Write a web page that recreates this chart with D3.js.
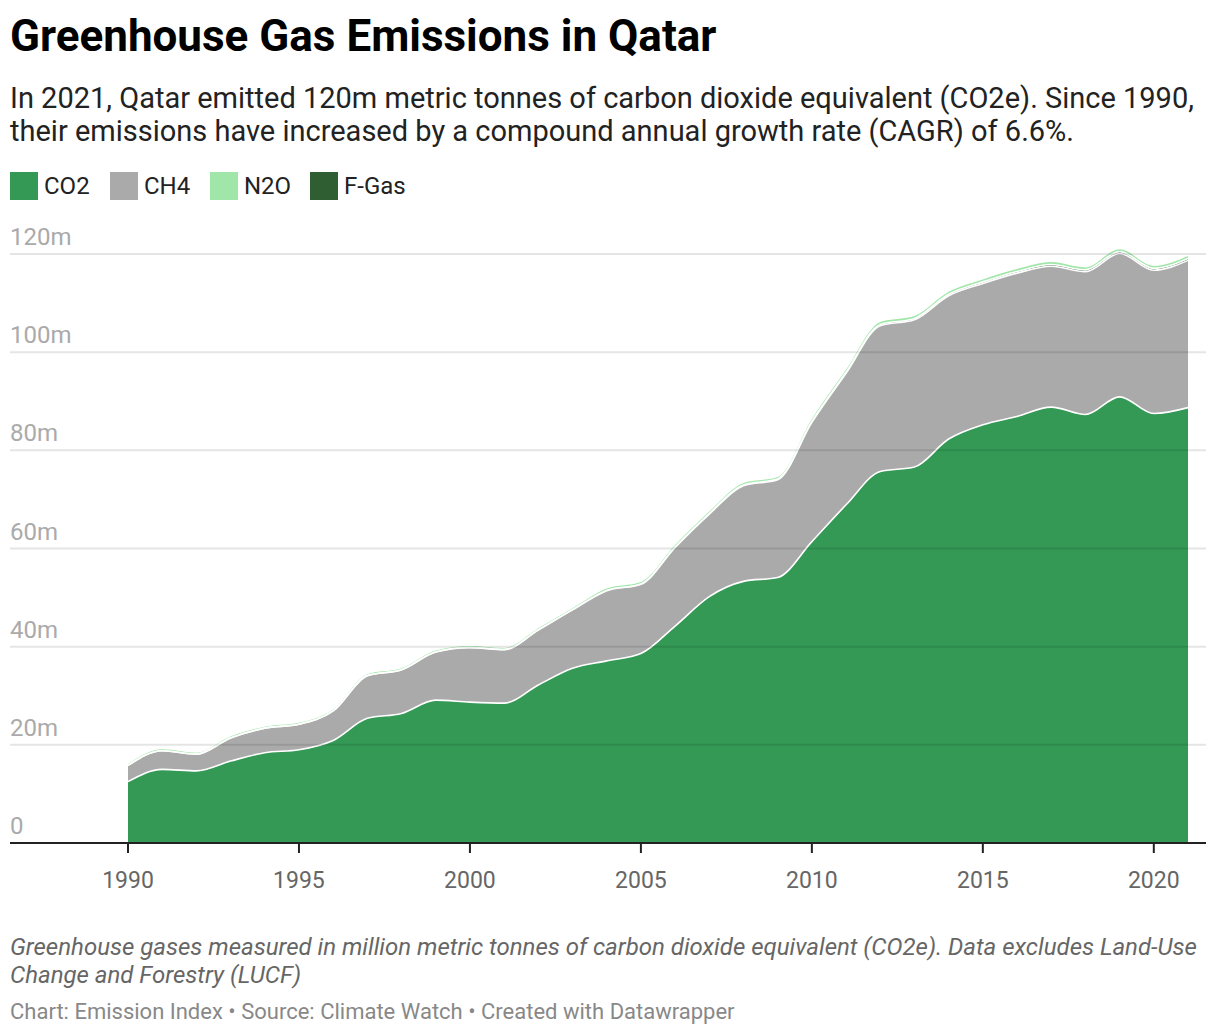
<!DOCTYPE html>
<html>
<head>
<meta charset="utf-8">
<script src="https://cdn.jsdelivr.net/npm/d3@7"></script>
<style>
  body { margin: 0; background: #fff; font-family: Roboto, "Noto Sans", sans-serif; }
  svg text { font-family: Roboto, "Noto Sans", sans-serif; }
</style>
</head>
<body>
<svg id="chart" width="1220" height="1036"></svg>
<script>
// values in million tonnes CO2e
var years = d3.range(1990, 2022);
var co2  = [12.5, 15.0, 14.7, 16.7, 18.4, 19.0, 20.9, 25.4, 26.4, 29.1,
            28.7, 28.5, 32.2, 35.6, 37.1, 38.6, 44.2, 50.2, 53.3, 54.1,
            61.4, 68.9, 75.7, 76.6, 82.3, 85.2, 86.9, 88.8, 87.3, 90.9,
            87.5, 88.7];
var ch4  = [3.3, 3.8, 3.4, 4.7, 5.0, 5.2, 6.0, 8.7, 8.9, 9.8,
            11.1, 10.9, 11.2, 11.9, 14.3, 14.1, 16.0, 16.8, 19.5, 19.9,
            24.3, 26.8, 29.7, 30.0, 29.2, 28.8, 29.2, 28.7, 29.1, 29.2,
            29.2, 30.0];
var n2o  = [0.3, 0.3, 0.3, 0.3, 0.3, 0.3, 0.3, 0.3, 0.3, 0.3,
            0.3, 0.3, 0.3, 0.3, 0.4, 0.4, 0.4, 0.4, 0.4, 0.4,
            0.5, 0.5, 0.5, 0.5, 0.5, 0.5, 0.5, 0.5, 0.5, 0.5,
            0.5, 0.5];
var fgas = [0, 0, 0, 0, 0, 0, 0, 0, 0, 0,
            0.02, 0.02, 0.03, 0.04, 0.05, 0.08, 0.1, 0.12, 0.15, 0.17,
            0.2, 0.22, 0.25, 0.27, 0.3, 0.32, 0.34, 0.36, 0.37, 0.38,
            0.38, 0.4];
var legendNames = ["CO2", "CH4", "N2O", "F-Gas"];
var yTicks = [0, 20, 40, 60, 80, 100, 120];
var xTicks = [1990, 1995, 2000, 2005, 2010, 2015, 2020];

var colors = {"CO2": "#339955", "CH4": "#aaaaaa", "N2O": "#a0e6a8", "F-Gas": "#305e33"};

var rows = years.map(function (y, i) {
    return {year: y, "CO2": co2[i], "CH4": ch4[i], "F-Gas": fgas[i], "N2O": n2o[i]};
});

var svg = d3.select("#chart");

// header
svg.append("text").attr("x", 10).attr("y", 51)
    .attr("font-size", 44).attr("font-weight", 700).attr("fill", "#000")
    .text("Greenhouse Gas Emissions in Qatar");
var sub = svg.append("text").attr("font-size", 29).attr("fill", "#222");
sub.append("tspan").attr("x", 10).attr("y", 108)
    .text("In 2021, Qatar emitted 120m metric tonnes of carbon dioxide equivalent (CO2e). Since 1990,");
sub.append("tspan").attr("x", 10).attr("y", 141)
    .text("their emissions have increased by a compound annual growth rate (CAGR) of 6.6%.");

// legend
var legX = [10, 110, 210, 310];
legendNames.forEach(function (k, i) {
    svg.append("rect").attr("x", legX[i]).attr("y", 172)
        .attr("width", 28).attr("height", 28).attr("fill", colors[k]);
    svg.append("text").attr("x", legX[i] + 34).attr("y", 194)
        .attr("font-size", 24).attr("fill", "#222").text(k);
});

// scales
var x = d3.scaleLinear().domain([1990, 2021]).range([128, 1188]);
var y = d3.scaleLinear().domain([0, 120]).range([843, 254]);

// stack: visual order bottom -> top
var keys = ["CO2", "CH4", "F-Gas", "N2O"];
var series = d3.stack().keys(keys)(rows);

var area = d3.area()
    .x(d => x(d.data.year)).y0(d => y(d[0])).y1(d => y(d[1]))
    .curve(d3.curveMonotoneX);
var topLine = d3.line()
    .x(d => x(d.data.year)).y(d => y(d[1]))
    .curve(d3.curveMonotoneX);

svg.append("g").selectAll("path").data(series).join("path")
    .attr("d", area).attr("fill", d => colors[d.key]);

// white separators between the layers
svg.append("g").selectAll("path").data(series.slice(0, 3)).join("path")
    .attr("d", topLine).attr("fill", "none")
    .attr("stroke", "#fff").attr("stroke-width", 1.6);

// grid lines and y labels
var grid = svg.append("g");
yTicks.filter(v => v > 0).forEach(function (v) {
    grid.append("line").attr("x1", 10).attr("x2", 1206)
        .attr("y1", y(v)).attr("y2", y(v))
        .attr("stroke", "#000").attr("stroke-opacity", 0.1).attr("stroke-width", 2);
});
yTicks.forEach(function (v) {
    grid.append("text").attr("x", 10).attr("y", y(v) - 9)
        .attr("font-size", 24).attr("fill", "#aaaaaa")
        .text(v === 0 ? "0" : v + "m");
});

// x axis
var xa = svg.append("g");
xa.append("line").attr("x1", 10).attr("x2", 1206).attr("y1", 843).attr("y2", 843)
    .attr("stroke", "#222").attr("stroke-width", 2);
xTicks.forEach(function (t) {
    xa.append("line").attr("x1", x(t)).attr("x2", x(t)).attr("y1", 843).attr("y2", 853)
        .attr("stroke", "#222").attr("stroke-width", 2);
    xa.append("text").attr("x", x(t)).attr("y", 888).attr("text-anchor", "middle")
        .attr("font-size", 23).attr("fill", "#666").text(t);
});

// notes
var note = svg.append("text").attr("font-size", 24).attr("font-style", "italic").attr("fill", "#666");
note.append("tspan").attr("x", 10).attr("y", 955)
    .text("Greenhouse gases measured in million metric tonnes of carbon dioxide equivalent (CO2e). Data excludes Land-Use");
note.append("tspan").attr("x", 10).attr("y", 983)
    .text("Change and Forestry (LUCF)");
svg.append("text").attr("x", 10).attr("y", 1019).attr("font-size", 22).attr("fill", "#888")
    .text("Chart: Emission Index \u2022 Source: Climate Watch \u2022 Created with Datawrapper");
</script>
</body>
</html>
